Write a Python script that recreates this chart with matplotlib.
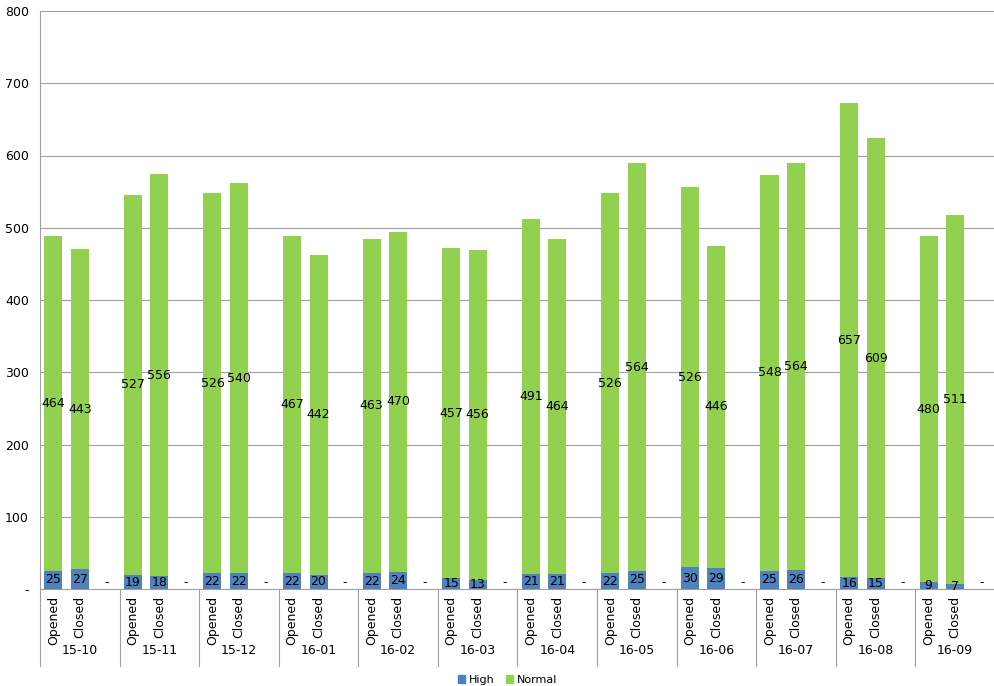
import numpy as np
import matplotlib.pyplot as plt
import matplotlib.transforms as mtransforms

months = ["15-10", "15-11", "15-12", "16-01", "16-02", "16-03",
          "16-04", "16-05", "16-06", "16-07", "16-08", "16-09"]
high_opened = [25, 19, 22, 22, 22, 15, 21, 22, 30, 25, 16, 9]
high_closed = [27, 18, 22, 20, 24, 13, 21, 25, 29, 26, 15, 7]
normal_opened = [464, 527, 526, 467, 463, 457, 491, 526, 526, 548, 657, 480]
normal_closed = [443, 556, 540, 442, 470, 456, 464, 564, 446, 564, 609, 511]

blue = "#4f81bd"
green = "#92d050"

fig = plt.figure(figsize=(9.95, 6.86), dpi=100)
ax = fig.add_axes([40/995, 1-589/686, 955/995, 578/686])

n = len(months)
x_op = np.arange(n) * 3
x_cl = x_op + 1
w = 0.68
for xs, hi, no in [(x_op, high_opened, normal_opened), (x_cl, high_closed, normal_closed)]:
    ax.bar(xs, hi, w, color=blue, zorder=3)
    ax.bar(xs, no, w, bottom=hi, color=green, zorder=3)
    for x, h, v in zip(xs, hi, no):
        ax.text(x, h / 2, str(h), ha="center", va="center", fontsize=9, zorder=4)
        ax.text(x, h + v / 2, str(v), ha="center", va="center", fontsize=9, zorder=4)
for x in x_op + 2:
    ax.text(x, 0, "-", ha="center", va="bottom", fontsize=9)

ax.set_xlim(-0.5, n * 3 - 0.5)
ax.set_ylim(0, 800)
ax.set_yticks(range(0, 801, 100))
ax.set_yticklabels(["-"] + [str(v) for v in range(100, 801, 100)], fontsize=9)
ax.yaxis.grid(True, color="#a0a0a0", linewidth=0.8, zorder=0)
ax.tick_params(axis="y", length=0, pad=8)
for s in ["top", "right"]:
    ax.spines[s].set_visible(False)
ax.spines["left"].set_color("#a0a0a0")
ax.spines["bottom"].set_color("#a0a0a0")

ax.set_xticks([])
trans = mtransforms.blended_transform_factory(ax.transData, ax.transAxes)
low = -77 / 578
for i in range(n + 1):
    ax.plot([i * 3 - 0.5] * 2, [0, low], color="#a0a0a0", lw=0.8,
            transform=trans, clip_on=False)
for i, m in enumerate(months):
    ax.text(x_op[i], -0.012, "Opened", rotation=90, ha="center", va="top",
            fontsize=9, transform=trans)
    ax.text(x_cl[i], -0.012, "Closed", rotation=90, ha="center", va="top",
            fontsize=9, transform=trans)
    ax.text(x_op[i] + 1, -61 / 578, m, ha="center", va="center",
            fontsize=9, transform=trans)

fig.legend(handles=[plt.Rectangle((0, 0), 1, 1, color=blue),
                    plt.Rectangle((0, 0), 1, 1, color=green)],
           labels=["High", "Normal"], loc="center", bbox_to_anchor=(0.51, 6/686),
           ncol=2, frameon=False, fontsize=8, handlelength=0.7, handleheight=0.7,
           columnspacing=1.0, handletextpad=0.3)

fig.savefig("out.png", dpi=100)
